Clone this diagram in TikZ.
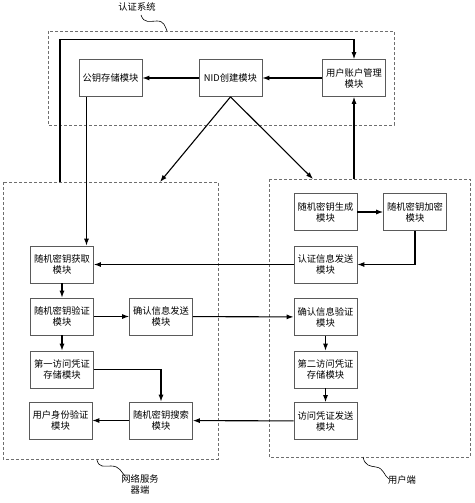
\documentclass[tikz,border=0pt]{standalone}
\usepackage{fontspec}
\newfontfamily\cjk{Noto Sans CJK SC}
\usetikzlibrary{arrows.meta}
\definecolor{boxColor}{RGB}{90,90,90}
\definecolor{groupColor}{RGB}{110,110,110}
\tikzset{
  module/.style={draw=boxColor,line width=.7pt,minimum width=63pt,minimum height=37pt,
    inner sep=1pt,align=center,font=\cjk\fontsize{9.3}{11}\selectfont},
  group/.style={draw=groupColor,dashed,line width=.7pt,dash pattern=on 3pt off 2pt},
  flow/.style={line width=1.1pt,-{Latex[length=7pt,width=5pt]}},
  tag/.style={font=\cjk\fontsize{9.3}{11}\selectfont,align=center},
}

\begin{document}
\begin{tikzpicture}[x=1pt,y=-1pt]
  \useasboundingbox (0,0) rectangle (474,503);
  % Groups
  \draw[group] (48,31) rectangle (394,125);
  \draw[group] (3,182) rectangle (218,459);
  \draw[group] (269,179) rectangle (470,457);
  \node[tag] (authLabel) at (137,7) {认证系统};
  \node[tag] (serverLabel) at (140,484) {网络服务\\器端};
  \node[tag] (clientLabel) at (402,480) {用户端};
  \draw[line width=.6pt] (141,15) .. controls (144,24) and (150,21) .. (157,21) .. controls (164,21) and (165,26) .. (167,31);
  \draw[line width=.6pt] (97,460) .. controls (99,468) and (104,466) .. (111,466) .. controls (120,466) and (121,472) .. (125,476);
  \draw[line width=.6pt] (363,457) .. controls (365,466) and (370,466) .. (376,467) .. controls (384,468) and (384,476) .. (389,479);
  % Authentication system
  \node[module] (pubStore) at (110.5,78) {公钥存储模块};
  \node[module] (nidCreate) at (230.5,78) {NID创建模块};
  \node[module] (accountMgr) at (354,78) {用户账户管理\\模块};
  % Network server
  \node[module] (keyGet) at (62,264.5) {随机密钥获取\\模块};
  \node[module] (keyVerify) at (62,316.5) {随机密钥验证\\模块};
  \node[module] (ackSend) at (161,316.5) {确认信息发送\\模块};
  \node[module] (credStore1) at (62,369.5) {第一访问凭证\\存储模块};
  \node[module] (idVerify) at (60.5,420.5) {用户身份验证\\模块};
  \node[module] (keySearch) at (161,420.5) {随机密钥搜索\\模块};
  % User side
  \node[module] (keyGen) at (325.5,212) {随机密钥生成\\模块};
  \node[module] (keyEnc) at (415,212) {随机密钥加密\\模块};
  \node[module] (authSend) at (325.5,264.5) {认证信息发送\\模块};
  \node[module] (ackVerify) at (325.5,317) {确认信息验证\\模块};
  \node[module] (credStore2) at (325.5,369.5) {第二访问凭证\\存储模块};
  \node[module] (credSend) at (325.5,421) {访问凭证发送\\模块};
  \coordinate (serverIn) at (160,182);
  \coordinate (clientIn) at (313,179);
  \coordinate (serverOut) at (60,182);
  \coordinate (clientOut) at (354,179);
  % Connections
  \draw[flow] (accountMgr) -- (nidCreate);
  \draw[flow] (nidCreate) -- (pubStore);
  \draw[flow] (nidCreate.south) -- (serverIn);
  \draw[flow] (nidCreate.south) -- (clientIn);
  \draw[flow] ([xshift=-24pt]pubStore.south) -- ([xshift=-24pt]pubStore.south |- keyGet.north);
  \draw[flow] (serverOut) |- ([yshift=20pt]accountMgr.north) -- (accountMgr.north);
  \draw[flow] (clientOut) -- (accountMgr.south);
  \draw[flow] (keyGet) -- (keyVerify);
  \draw[flow] (keyVerify) -- (credStore1);
  \draw[flow] (keyVerify) -- (ackSend);
  \draw[flow] (credStore1.east) -| (keySearch.north);
  \draw[flow] (keySearch) -- (idVerify);
  \draw[flow] (keyGen) -- (keyEnc);
  \draw[flow] (keyEnc.south) |- (authSend.east);
  \draw[flow] (authSend) -- (keyGet);
  \draw[flow] (ackSend) -- (ackVerify);
  \draw[flow] (ackVerify) -- (credStore2);
  \draw[flow] (credStore2) -- (credSend);
  \draw[flow] (credSend) -- (keySearch);
\end{tikzpicture}
\end{document}
